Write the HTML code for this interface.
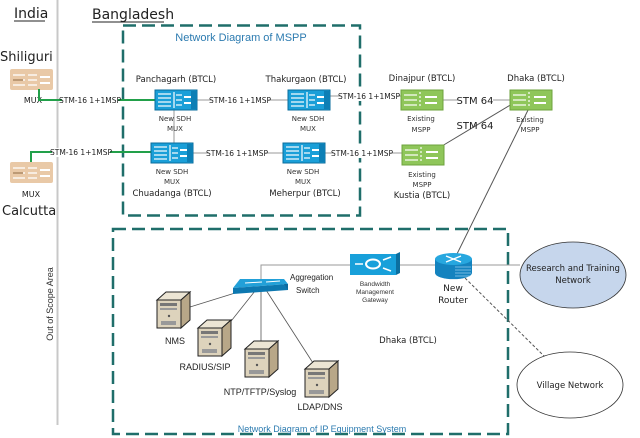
<!DOCTYPE html>
<html><head><meta charset="utf-8"><style>
html,body{margin:0;padding:0;background:#fff;}
svg{display:block;font-family:"Liberation Sans",sans-serif;}
.c{font-family:"DejaVu Sans","Liberation Sans",sans-serif;}
</style></head><body>
<svg width="640" height="438" viewBox="0 0 640 438" xmlns="http://www.w3.org/2000/svg">
<defs>
<g id="sw">
<rect x="0" y="0" width="42" height="20" fill="#1a9fd8" stroke="#0b6e9c" stroke-width="1"/>
<rect x="36" y="1" width="6" height="18" fill="#0d7fb5"/>
<g stroke="#fff" stroke-width="1.2">
<line x1="3" y1="4" x2="16" y2="4"/><line x1="3" y1="8" x2="16" y2="8"/><line x1="3" y1="12" x2="16" y2="12"/><line x1="3" y1="16" x2="16" y2="16"/>
<line x1="19" y1="2" x2="19" y2="18"/><line x1="21" y1="5" x2="27" y2="5"/><line x1="21" y1="10" x2="27" y2="10"/><line x1="21" y1="15" x2="27" y2="15"/>
<line x1="29" y1="7" x2="36" y2="7" stroke-width="2"/><line x1="29" y1="13" x2="36" y2="13" stroke-width="2"/>
</g></g>
<g id="gr">
<rect x="0" y="0" width="42" height="20" fill="#8fc65a" stroke="#6ea33c" stroke-width="1"/>
<g stroke="#fff" stroke-width="1.2">
<line x1="3" y1="5" x2="16" y2="5"/><line x1="3" y1="10" x2="16" y2="10"/><line x1="3" y1="15" x2="16" y2="15"/>
<line x1="19" y1="2" x2="19" y2="18" stroke-dasharray="2 2"/>
<line x1="24" y1="7" x2="36" y2="7" stroke-width="2"/><line x1="24" y1="13" x2="36" y2="13" stroke-width="2"/>
</g></g>
<g id="mux">
<rect x="0" y="0" width="43" height="21" rx="2" fill="#e9c9a7"/>
<g stroke="#fff" stroke-width="1.3">
<line x1="3" y1="6" x2="15" y2="6"/><line x1="3" y1="11" x2="15" y2="11"/><line x1="3" y1="16" x2="15" y2="16"/>
<line x1="18" y1="6" x2="27" y2="6"/><line x1="18" y1="11" x2="27" y2="11"/><line x1="18" y1="16" x2="27" y2="16"/>
<line x1="30" y1="8" x2="40" y2="8" stroke-width="2"/><line x1="30" y1="14" x2="40" y2="14" stroke-width="2"/>
</g><line x1="3" y1="11" x2="13" y2="11" stroke="#8a5a2a" stroke-width="1"/></g>
<g id="srv">
<polygon points="0,8 9,0 33,0 24,8" fill="#ece5d4" stroke="#222" stroke-width="1"/>
<polygon points="24,8 33,0 33,28 24,36" fill="#b8a788" stroke="#222" stroke-width="1"/>
<rect x="0" y="8" width="24" height="28" fill="#ddd3bc" stroke="#222" stroke-width="1"/>
<rect x="3" y="11" width="17" height="3" fill="#777"/><rect x="3" y="16" width="17" height="2" fill="#999"/>
<circle cx="12" cy="24" r="1.2" fill="#555"/><rect x="4" y="29" width="15" height="4" fill="#999"/>
</g>
</defs>

<!-- headers -->
<line x1="57.5" y1="0" x2="57.5" y2="425" stroke="#c8c8c8" stroke-width="2"/>
<text x="14" y="18" font-size="14" fill="#222" class="c">India</text>
<line x1="14" y1="21" x2="45" y2="21" stroke="#222"/>
<text x="92" y="19" font-size="14" fill="#222" class="c">Bangladesh</text>
<line x1="92" y1="22" x2="164" y2="22" stroke="#222"/>
<text transform="translate(53,304) rotate(-90)" font-size="9" fill="#333" text-anchor="middle">Out of Scope Area</text>

<!-- MSPP box -->
<rect x="123" y="25.5" width="237" height="190" fill="none" stroke="#1f6e6a" stroke-width="2.5" stroke-dasharray="13 6"/>
<text x="241" y="41" font-size="11" fill="#2c7bb0" text-anchor="middle">Network Diagram of MSPP</text>

<!-- IP box -->
<rect x="113" y="229" width="395" height="205" fill="none" stroke="#1f6e6a" stroke-width="2.5" stroke-dasharray="13 6"/>
<text x="322" y="432" font-size="9" fill="#2c7bb0" text-anchor="middle">Network Diagram of IP Equipment System</text>

<!-- India side -->
<text x="0" y="61" font-size="13" fill="#222" class="c">Shiliguri</text>
<use href="#mux" x="10" y="69"/>
<text x="33" y="103" font-size="8" fill="#222" text-anchor="middle" class="c">MUX</text>
<polyline points="39,89 39,100 155,100" fill="none" stroke="#22a04a" stroke-width="2"/>
<use href="#mux" x="10" y="162"/>
<text x="31" y="197" font-size="8" fill="#222" text-anchor="middle" class="c">MUX</text>
<text x="2" y="215" font-size="13" fill="#222" class="c">Calcutta</text>
<polyline points="31,162 31,152 152,152" fill="none" stroke="#22a04a" stroke-width="2"/>
<rect x="62" y="96" width="56" height="9" fill="#fff"/>
<text x="90" y="103" font-size="7.5" fill="#222" text-anchor="middle" class="c">STM-16 1+1MSP</text>
<rect x="52" y="148" width="58" height="9" fill="#fff"/>
<text x="81" y="155" font-size="7.5" fill="#222" text-anchor="middle" class="c">STM-16 1+1MSP</text>

<!-- MSPP links -->
<line x1="174" y1="110" x2="174" y2="143" stroke="#999"/>
<line x1="197" y1="100" x2="288" y2="100" stroke="#999"/>
<line x1="191" y1="153" x2="283" y2="153" stroke="#999"/>
<line x1="330" y1="96" x2="401" y2="96" stroke="#999"/>
<line x1="325" y1="153" x2="402" y2="153" stroke="#999"/>
<line x1="434" y1="100" x2="511" y2="100" stroke="#999"/>
<line x1="442" y1="146" x2="512" y2="104" stroke="#555"/>
<line x1="532" y1="102" x2="455" y2="258" stroke="#555"/>
<g font-size="7.5" fill="#222" text-anchor="middle" class="c">
<rect x="212" y="96" width="56" height="9" fill="#fff"/><text x="240" y="103">STM-16 1+1MSP</text>
<rect x="209" y="149" width="56" height="9" fill="#fff"/><text x="237" y="156">STM-16 1+1MSP</text>
<rect x="341" y="92" width="56" height="9" fill="#fff"/><text x="369" y="99">STM-16 1+1MSP</text>
<rect x="334" y="149" width="56" height="9" fill="#fff"/><text x="362" y="156">STM-16 1+1MSP</text>
</g>
<rect x="458" y="94" width="35" height="12" fill="#fff"/>
<text x="475" y="104" font-size="10" fill="#222" text-anchor="middle" class="c">STM 64</text>
<text x="475" y="129" font-size="10" fill="#222" text-anchor="middle" class="c">STM 64</text>

<use href="#sw" x="155" y="90"/>
<use href="#sw" x="151" y="143"/>
<use href="#sw" x="288" y="90"/>
<use href="#sw" x="283" y="143"/>
<use href="#gr" x="401" y="90"/>
<use href="#gr" x="402" y="145"/>
<use href="#gr" x="510" y="90"/>

<g font-size="8.5" fill="#222" text-anchor="middle" class="c">
<text x="176" y="82">Panchagarh (BTCL)</text>
<text x="306" y="82">Thakurgaon (BTCL)</text>
<text x="422" y="81">Dinajpur (BTCL)</text>
<text x="536" y="81">Dhaka (BTCL)</text>
<text x="172" y="196">Chuadanga (BTCL)</text>
<text x="305" y="196">Meherpur (BTCL)</text>
<text x="422" y="198">Kustia (BTCL)</text>
</g>
<g font-size="7" fill="#333" text-anchor="middle" class="c">
<text x="175" y="121">New SDH</text><text x="175" y="131">MUX</text>
<text x="308" y="121">New SDH</text><text x="308" y="131">MUX</text>
<text x="172" y="174">New SDH</text><text x="172" y="184">MUX</text>
<text x="303" y="174">New SDH</text><text x="303" y="184">MUX</text>
<text x="421" y="121">Existing</text><text x="421" y="132">MSPP</text>
<text x="422" y="177">Existing</text><text x="422" y="187">MSPP</text>
<text x="530" y="122">Existing</text><text x="530" y="132">MSPP</text>
</g>

<!-- IP section -->
<polyline points="261,280 261,265 520,265" fill="none" stroke="#999"/>
<g stroke="#555" stroke-width="0.8">
<line x1="248" y1="289" x2="190" y2="307"/>
<line x1="255" y1="291" x2="228" y2="325"/>
<line x1="261" y1="291" x2="261" y2="343"/>
<line x1="266" y1="290" x2="313" y2="363"/>
</g>
<line x1="465" y1="278" x2="545" y2="357" stroke="#555" stroke-dasharray="3 2"/>
<polygon points="240,279 284,279 288,284 233,288" fill="#22a0d8"/>
<polygon points="233,288 288,284 288,290 233,294" fill="#0d78b0"/>
<polygon points="284,284 288,284 288,290" fill="#0d6a9e"/>
<line x1="245" y1="283" x2="262" y2="282" stroke="#fff"/><line x1="266" y1="282" x2="280" y2="281" stroke="#fff"/>
<text x="290" y="280" font-size="8" fill="#222">Aggregation</text>
<text x="296" y="293" font-size="8" fill="#222">Switch</text>

<rect x="350" y="254" width="46" height="21" fill="#18a0da"/>
<polygon points="396,254 400,252 400,273 396,275" fill="#0c6f9f"/>
<ellipse cx="373" cy="264" rx="7" ry="4.5" fill="none" stroke="#fff" stroke-width="2"/>
<line x1="355" y1="264" x2="363" y2="264" stroke="#fff" stroke-width="1.5"/>
<line x1="383" y1="260" x2="391" y2="257" stroke="#fff" stroke-width="1.5"/><line x1="383" y1="268" x2="391" y2="271" stroke="#fff" stroke-width="1.5"/>
<g font-size="6.5" fill="#333" text-anchor="middle"><text x="375" y="286">Bandwidth</text><text x="375" y="294">Management</text><text x="375" y="302">Gateway</text></g>

<path d="M435,259 L435,273 A18,6 0 0 0 472,273 L472,259 Z" fill="#1483bf"/>
<ellipse cx="453.5" cy="259" rx="18.5" ry="6" fill="#27a7df"/>
<g stroke="#fff" stroke-width="1.3"><line x1="446" y1="256" x2="461" y2="262"/><line x1="446" y1="262" x2="461" y2="256"/></g>
<g stroke="#9cd3ee" stroke-width="0.7"><line x1="455" y1="267" x2="471" y2="267"/><line x1="455" y1="270" x2="471" y2="270"/><line x1="455" y1="273" x2="471" y2="273"/><line x1="455" y1="276" x2="470" y2="276"/></g>
<g font-size="9" fill="#222" text-anchor="middle" class="c"><text x="453" y="291">New</text><text x="453" y="303">Router</text></g>

<use href="#srv" x="157" y="292"/>
<use href="#srv" x="198" y="320"/>
<use href="#srv" x="245" y="341"/>
<use href="#srv" x="305" y="361"/>
<g font-size="9" fill="#222" text-anchor="middle">
<text x="175" y="344">NMS</text>
<text x="205" y="370">RADIUS/SIP</text>
<text x="260" y="395">NTP/TFTP/Syslog</text>
<text x="320" y="410">LDAP/DNS</text>
</g>
<text x="408" y="343" font-size="8.5" fill="#222" text-anchor="middle" class="c">Dhaka (BTCL)</text>

<ellipse cx="573" cy="275" rx="53" ry="33" fill="#c6d6ec" stroke="#333" stroke-width="0.8"/>
<g font-size="8.5" fill="#222" text-anchor="middle" class="c"><text x="573" y="271">Research and Training</text><text x="573" y="283">Network</text></g>
<ellipse cx="570" cy="385" rx="53" ry="33" fill="#fff" stroke="#333" stroke-width="0.8"/>
<text x="570" y="388" font-size="8.5" fill="#222" text-anchor="middle" class="c">Village Network</text>
</svg>
</body></html>
